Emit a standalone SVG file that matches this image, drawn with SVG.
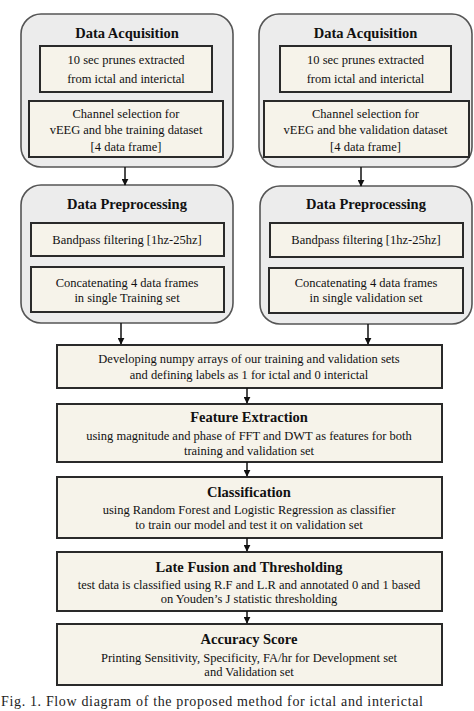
<svg xmlns="http://www.w3.org/2000/svg" width="474" height="711" viewBox="0 0 474 711">
<defs>
<marker id="ah" viewBox="0 0 10 10" refX="9" refY="5" markerWidth="7" markerHeight="7" markerUnits="userSpaceOnUse" orient="auto">
<path d="M0,0 L10,5 L0,10 z" fill="#111"/>
</marker>
</defs>
<style>
.outer{fill:#ececec;stroke:#555;stroke-width:1.6}
.inner{fill:#f6f3ea;stroke:#2a2a2a;stroke-width:2}
.box{fill:#f6f3ea;stroke:#2a2a2a;stroke-width:2}
.t{font-family:"Liberation Serif","Times New Roman",serif;font-size:14.5px;font-weight:bold;fill:#111;text-anchor:middle}
.b{font-family:"Liberation Serif","Times New Roman",serif;font-size:12.5px;fill:#111;text-anchor:middle}
.cap{font-family:"Liberation Serif","Times New Roman",serif;font-size:14px;fill:#222}
.conn{stroke:#111;stroke-width:1.5;fill:none;marker-end:url(#ah)}
</style>
<rect width="474" height="711" fill="#fff"/>

<g id="acq-left">
<rect class="outer" x="21" y="14" width="212" height="153" rx="20"/>
<text class="t" x="127" y="38">Data Acquisition</text>
<rect class="inner" x="40" y="46" width="172" height="46"/>
<text class="b" x="126" y="64">10 sec prunes extracted</text>
<text class="b" x="126" y="83">from ictal and interictal</text>
<rect class="inner" x="29" y="101" width="194" height="56"/>
<text class="b" x="126" y="118">Channel selection for</text>
<text class="b" x="126" y="134">vEEG and bhe training dataset</text>
<text class="b" x="126" y="151">[4 data frame]</text>
</g>

<g id="acq-right">
<rect class="outer" x="259" y="14" width="213" height="153" rx="20"/>
<text class="t" x="365.5" y="38">Data Acquisition</text>
<rect class="inner" x="280" y="46" width="171" height="46"/>
<text class="b" x="365.5" y="64">10 sec prunes extracted</text>
<text class="b" x="365.5" y="83">from ictal and interictal</text>
<rect class="inner" x="264" y="101" width="205" height="56"/>
<text class="b" x="365.5" y="118">Channel selection for</text>
<text class="b" x="365.5" y="134">vEEG and bhe validation dataset</text>
<text class="b" x="365.5" y="151">[4 data frame]</text>
</g>

<g id="pre-left">
<rect class="outer" x="21" y="185" width="212" height="138" rx="20"/>
<text class="t" x="127" y="209">Data Preprocessing</text>
<rect class="inner" x="31" y="223" width="193" height="33"/>
<text class="b" x="127" y="244">Bandpass filtering [1hz-25hz]</text>
<rect class="inner" x="31" y="267" width="193" height="45"/>
<text class="b" x="127" y="287">Concatenating 4 data frames</text>
<text class="b" x="127" y="302">in single Training set</text>
</g>

<g id="pre-right">
<rect class="outer" x="260" y="186" width="212" height="138" rx="20"/>
<text class="t" x="366" y="209">Data Preprocessing</text>
<rect class="inner" x="270" y="223" width="193" height="34"/>
<text class="b" x="366" y="244">Bandpass filtering [1hz-25hz]</text>
<rect class="inner" x="269" y="268" width="194" height="45"/>
<text class="b" x="366" y="287">Concatenating 4 data frames</text>
<text class="b" x="366" y="302">in single validation set</text>
</g>

<g id="numpy">
<rect class="box" x="57" y="345" width="385" height="43"/>
<text class="b" x="249" y="363">Developing numpy arrays of our training and validation sets</text>
<text class="b" x="249" y="379">and defining labels as 1 for ictal and 0 interictal</text>
</g>

<g id="feature">
<rect class="box" x="57" y="404" width="385" height="58"/>
<text class="t" x="249" y="422">Feature Extraction</text>
<text class="b" x="249" y="440">using magnitude and phase of FFT and DWT as features for both</text>
<text class="b" x="249" y="455">training and validation set</text>
</g>

<g id="classification">
<rect class="box" x="57" y="477" width="385" height="61"/>
<text class="t" x="249" y="497">Classification</text>
<text class="b" x="249" y="514">using Random Forest and Logistic Regression as classifier</text>
<text class="b" x="249" y="529">to train our model and test it on validation set</text>
</g>

<g id="fusion">
<rect class="box" x="57" y="552" width="385" height="59"/>
<text class="t" x="249" y="572">Late Fusion and Thresholding</text>
<text class="b" x="249" y="589">test data is classified using R.F and L.R and annotated 0 and 1 based</text>
<text class="b" x="249" y="603">on  Youden’s J statistic thresholding</text>
</g>

<g id="accuracy">
<rect class="box" x="57" y="624" width="385" height="61"/>
<text class="t" x="249" y="644">Accuracy Score</text>
<text class="b" x="249" y="662">Printing Sensitivity, Specificity, FA/hr for Development set</text>
<text class="b" x="249" y="676">and Validation set</text>
</g>

<g id="connectors">
<line class="conn" x1="125" y1="167" x2="125" y2="185"/>
<line class="conn" x1="361" y1="167" x2="361" y2="186"/>
<line class="conn" x1="121" y1="323" x2="121" y2="344"/>
<line class="conn" x1="368" y1="324" x2="368" y2="344"/>
<line class="conn" x1="247" y1="388" x2="247" y2="403"/>
<line class="conn" x1="247" y1="462" x2="247" y2="476"/>
<line class="conn" x1="247" y1="538" x2="247" y2="551"/>
<line class="conn" x1="247" y1="611" x2="247" y2="623"/>
</g>

<text class="cap" x="1" y="706" textLength="422" lengthAdjust="spacing">Fig. 1.  Flow diagram of the proposed method for ictal and interictal</text>
</svg>
